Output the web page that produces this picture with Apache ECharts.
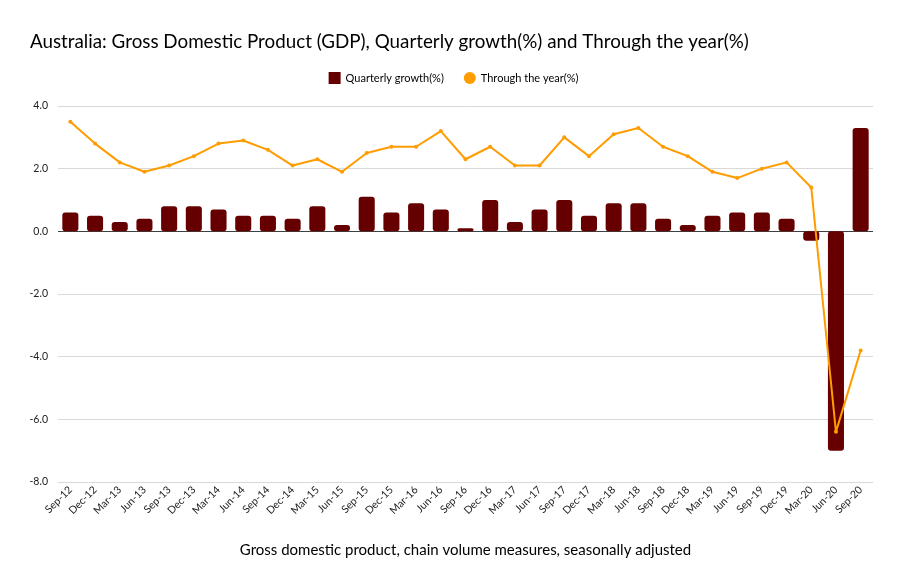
<!DOCTYPE html>
<html>
<head>
<meta charset="utf-8">
<script src="https://cdn.jsdelivr.net/npm/echarts@6/dist/echarts.min.js"></script>
<style>html,body{margin:0;padding:0;background:#fff}#c{width:907px;height:587px}</style>
</head>
<body>
<div id="c"></div>
<script>
const categories = ['Sep-12','Dec-12','Mar-13','Jun-13','Sep-13','Dec-13','Mar-14','Jun-14','Sep-14','Dec-14','Mar-15','Jun-15','Sep-15','Dec-15','Mar-16','Jun-16','Sep-16','Dec-16','Mar-17','Jun-17','Sep-17','Dec-17','Mar-18','Jun-18','Sep-18','Dec-18','Mar-19','Jun-19','Sep-19','Dec-19','Mar-20','Jun-20','Sep-20'];
const quarterlyGrowth = [0.6,0.5,0.3,0.4,0.8,0.8,0.7,0.5,0.5,0.4,0.8,0.2,1.1,0.6,0.9,0.7,0.1,1.0,0.3,0.7,1.0,0.5,0.9,0.9,0.4,0.2,0.5,0.6,0.6,0.4,-0.3,-7.0,3.3];
const throughYear = [3.5,2.8,2.2,1.9,2.1,2.4,2.8,2.9,2.6,2.1,2.3,1.9,2.5,2.7,2.7,3.2,2.3,2.7,2.1,2.1,3.0,2.4,3.1,3.3,2.7,2.4,1.9,1.7,2.0,2.2,1.4,-6.4,-3.8];
const yTicks = {min:-8, max:4, interval:2};

const FONT = 'Lato, "Open Sans", sans-serif';
const chart = echarts.init(document.getElementById('c'), null, {renderer:'canvas'});
chart.setOption({
  animation:false,
  backgroundColor:'#fff',
  title:{
    text:'Australia: Gross Domestic Product (GDP), Quarterly growth(%) and Through the year(%)',
    left:25, top:27,
    textStyle:{fontFamily:FONT, fontSize:18.8, fontWeight:'normal', color:'#000'}
  },
  legend:{
    top:67, left:'center',
    itemWidth:12, itemHeight:12, itemGap:20,
    textStyle:{fontFamily:FONT, fontSize:11, color:'#000'},
    data:[{name:'Quarterly growth(%)', icon:'rect'},{name:'Through the year(%)', icon:'circle'}]
  },
  grid:{left:58, right:34, top:106, bottom:105},
  xAxis:{
    type:'category', data:categories,
    name:'Gross domestic product, chain volume measures, seasonally adjusted',
    nameLocation:'middle', nameGap:61,
    nameTextStyle:{fontFamily:FONT, fontSize:15, color:'#000'},
    axisLine:{show:false, onZero:false},
    axisTick:{show:false},
    axisLabel:{rotate:45, interval:0, fontFamily:FONT, fontSize:10.5, color:'#222', margin:6}
  },
  yAxis:{
    type:'value', min:yTicks.min, max:yTicks.max, interval:yTicks.interval,
    axisLine:{show:false}, axisTick:{show:false},
    axisLabel:{formatter:v=>v.toFixed(1), fontFamily:FONT, fontSize:10.5, color:'#222', margin:10},
    splitLine:{lineStyle:{color:['#d9d9d9','#d9d9d9','#d9d9d9','#d9d9d9','#404040','#d9d9d9','#d9d9d9'], width:1}}
  },
  series:[
    {name:'Quarterly growth(%)', type:'bar', data:quarterlyGrowth, barCategoryGap:'35%',
     itemStyle:{color:'#660000', borderRadius:3}},
    {name:'Through the year(%)', type:'line', data:throughYear, symbol:'circle', symbolSize:4,
     lineStyle:{color:'#ff9c00', width:2}, itemStyle:{color:'#ff9c00'}}
  ]
});
</script>
</body>
</html>
